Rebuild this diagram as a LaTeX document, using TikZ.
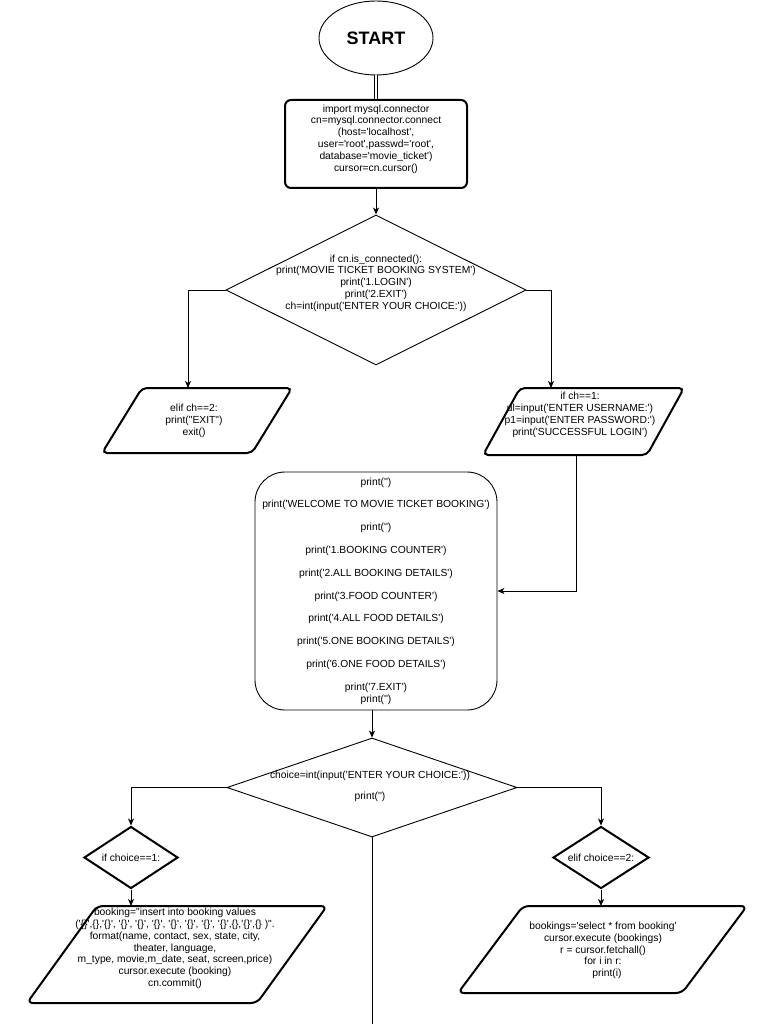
\documentclass[tikz,border=0pt]{standalone}
\usepackage{fontspec}
\setmainfont{Liberation Sans}[Ligatures=TeXOff]
\usetikzlibrary{shapes.geometric,arrows.meta}
\begin{document}
\begin{tikzpicture}[x=1pt,y=-1pt,
  every node/.style={font=\fontsize{10.3}{11.8}\selectfont, align=center, inner sep=0pt},
  thin line/.style={line width=0.9pt},
  thick line/.style={line width=2pt},
  arr/.style={thin line, -{Stealth[length=7pt,width=6pt,inset=2pt]}},
  conn/.style={thin line},
  dshape/.style={draw, diamond, thin line},
  sdshape/.style={draw, diamond, thick line},
]
\useasboundingbox[fill=white] (0,0) rectangle (768,1024);

% START
\node[draw, ellipse, thin line, minimum width=114, minimum height=74,
      font=\bfseries\fontsize{18}{20}\selectfont] (start) at (376,38) {START};

% box 1
\node[draw, thick line, rounded corners=6pt, minimum width=182, minimum height=88] (box1) at (376,144) {};
\node (t1) at (376,139) {import mysql.connector\\ cn=mysql.connector.connect\\ (host='localhost',\\ user='root',passwd='root',\\ database='movie\_ticket')\\ cursor=cn.cursor()};

\draw[thin line, double, double distance=2.5pt] (start.south) -- (box1.north);

% diamond 1
\node[dshape, minimum width=300, minimum height=150] (d1) at (376,290) {};
\node (t2) at (376,283) {if cn.is\_connected():\\ print('MOVIE TICKET BOOKING SYSTEM')\\ print('1.LOGIN')\\ print('2.EXIT')\\ ch=int(input('ENTER YOUR CHOICE:'))};
\draw[arr] (box1.south) -- (d1.north);

% left parallelogram
\coordinate (p1tl) at (142,388);
\coordinate (p1tr) at (292,388);
\coordinate (p1br) at (252,453);
\coordinate (p1bl) at (102,453);
\draw[thick line, rounded corners=5pt] (p1tl) -- (p1tr) -- (p1br) -- (p1bl) -- cycle;
\node (p1) at (194,421) {elif ch==2:\\ print("EXIT")\\ exit()};
\coordinate (p1in) at (188,388);
\draw[arr] (d1.west) -| (p1in);

% right parallelogram
\coordinate (p2tl) at (520,388);
\coordinate (p2tr) at (684,388);
\coordinate (p2br) at (647,455);
\coordinate (p2bl) at (483,455);
\draw[thick line, rounded corners=5pt] (p2tl) -- (p2tr) -- (p2br) -- (p2bl) -- cycle;
\node (p2) at (580,415) {if ch==1:\\ ul=input('ENTER USERNAME:')\\ p1=input('ENTER PASSWORD:')\\ print('SUCCESSFUL LOGIN')};
\coordinate (p2in) at (551,388);
\draw[arr] (d1.east) -| (p2in);
\coordinate (p2out) at (576,455);

% big menu box
\node[draw, thin line, rounded corners=30pt, minimum width=242, minimum height=238] (menu) at (376,591) {};
\node (t3) at (376,591) {print('')\\[11pt] print('WELCOME TO MOVIE TICKET BOOKING')\\[11pt] print('')\\[11pt] print('1.BOOKING COUNTER')\\[11pt] print('2.ALL BOOKING DETAILS')\\[11pt] print('3.FOOD COUNTER')\\[11pt] print('4.ALL FOOD DETAILS')\\[11pt] print('5.ONE BOOKING DETAILS')\\[11pt] print('6.ONE FOOD DETAILS')\\[11pt] print('7.EXIT')\\ print('')};
\draw[arr] (p2out) |- (menu.east);

% diamond 2
\node[dshape, minimum width=290, minimum height=99] (d2) at (372,787.5) {};
\node (t4) at (370,786) {choice=int(input('ENTER YOUR CHOICE:'))\\[9pt] print('')};
\draw[arr] (d2.north |- menu.south) -- (d2.north);
\coordinate (bottom) at (372,1024);
\draw[conn] (d2.south) -- (bottom);

% small diamonds
\node[sdshape, minimum width=94, minimum height=62] (s1) at (131,857.5) {};
\node (s1t) at (131,857.5) {if choice==1:};
\node[sdshape, minimum width=96, minimum height=62] (s2) at (601,857.5) {};
\node (s2t) at (601,857.5) {elif choice==2:};
\draw[arr] (d2.west) -| (s1.north);
\draw[arr] (d2.east) -| (s2.north);

% bottom-left parallelogram
\coordinate (p3tl) at (97,906);
\coordinate (p3tr) at (327,906);
\coordinate (p3br) at (257,1003);
\coordinate (p3bl) at (27,1003);
\draw[thick line, rounded corners=6pt] (p3tl) -- (p3tr) -- (p3br) -- (p3bl) -- cycle;
\node (p3) at (175,948.5) {booking="insert into booking values\\ ('\{\}',\{\},'\{\}', '\{\}', '\{\}', '\{\}', '\{\}', '\{\}', '\{\}', '\{\}',\{\},'\{\}',\{\} )".\\ format(name, contact, sex, state, city,\\ theater, language,\\ m\_type, movie,m\_date, seat, screen,price)\\ cursor.execute (booking)\\ cn.commit()};
\coordinate (p3in) at (131,906);
\draw[arr] (s1.south) -- (p3in);

% bottom-right parallelogram
\coordinate (p4tl) at (523,906);
\coordinate (p4tr) at (747,906);
\coordinate (p4br) at (682,993);
\coordinate (p4bl) at (458,993);
\draw[thick line, rounded corners=6pt] (p4tl) -- (p4tr) -- (p4br) -- (p4bl) -- cycle;
\node (p4) at (603,950.5) {bookings='select * from booking'\\ cursor.execute (bookings)\\ r = cursor.fetchall()\\ for i in r:\\ \hspace*{8pt}print(i)};
\coordinate (p4in) at (601,906);
\draw[arr] (s2.south) -- (p4in);
\end{tikzpicture}
\end{document}
